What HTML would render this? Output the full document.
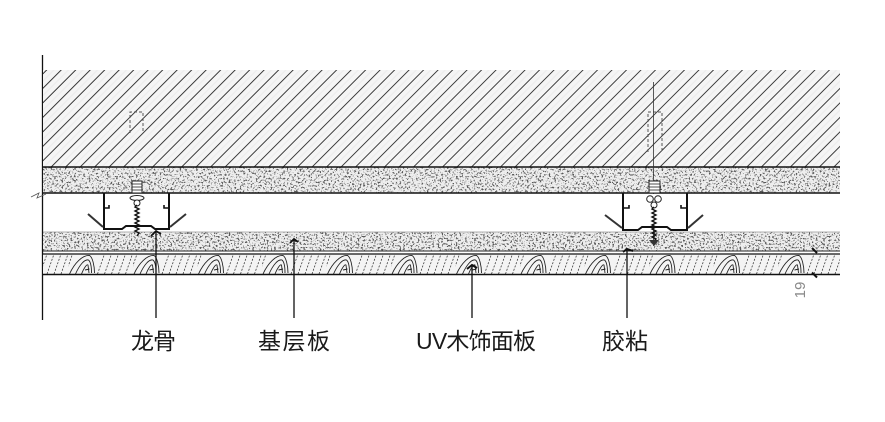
<!DOCTYPE html>
<html><head><meta charset="utf-8"><style>
html,body{margin:0;padding:0;background:#fff;}
svg{display:block;}
</style></head><body>
<svg width="885" height="422" viewBox="0 0 885 422" xmlns="http://www.w3.org/2000/svg">
<defs>
  <pattern id="hatch" width="10.25" height="10" patternUnits="userSpaceOnUse" patternTransform="rotate(45)">
    <line x1="0.5" y1="0" x2="0.5" y2="10" stroke="#1a1a1a" stroke-width="0.85"/>
    <line x1="5.6" y1="0" x2="5.6" y2="10" stroke="#ebebeb" stroke-width="1"/>
  </pattern>
  <filter id="spk" x="0" y="0" width="100%" height="100%">
    <feTurbulence type="fractalNoise" baseFrequency="0.55" numOctaves="2" seed="7"/>
    <feColorMatrix type="matrix" values="0 0 0 0 0.1  0 0 0 0 0.1  0 0 0 0 0.1  1 0 0 0 0"/>
    <feComponentTransfer>
      <feFuncA type="discrete" tableValues="0 0 0 0 0 0 0 0 0 0 0 0.2 0.6 1 1 1 1 1 1 1"/>
    </feComponentTransfer>
  </filter>
  <filter id="spk2" x="0" y="0" width="100%" height="100%">
    <feTurbulence type="fractalNoise" baseFrequency="0.55" numOctaves="2" seed="23"/>
    <feColorMatrix type="matrix" values="0 0 0 0 0.1  0 0 0 0 0.1  0 0 0 0 0.1  1 0 0 0 0"/>
    <feComponentTransfer>
      <feFuncA type="discrete" tableValues="0 0 0 0 0 0 0 0 0 0 0 0.2 0.6 1 1 1 1 1 1 1"/>
    </feComponentTransfer>
  </filter>
  <pattern id="wood" x="133" y="254" width="64.5" height="20" patternUnits="userSpaceOnUse">
    <g fill="none" stroke="#333" stroke-width="0.75" stroke-dasharray="2 1.5">
      <line x1="29" y1="20" x2="36" y2="0"/>
      <line x1="36" y1="20" x2="43" y2="0"/>
      <line x1="43" y1="20" x2="50" y2="0"/>
      <line x1="50" y1="20" x2="57" y2="0"/>
      <line x1="57" y1="20" x2="64" y2="0"/>
      <line x1="-3" y1="20" x2="4" y2="0"/>
    </g>
    <g fill="none" stroke="#222" stroke-width="0.9">
      <path d="M1 20 C6 9,14 1,21 1.5 C24 3,26 12,26 19"/>
      <path d="M7 20 C11 11,16 5,20 6 C22.5 8,23 14,23 19"/>
      <path d="M13 20 C15 15,18 10,19.5 11 L20.5 19"/>
      <path d="M16.5 16 L21 15"/>
    </g>
  </pattern>
</defs>

<!-- left vertical line -->
<line x1="42.5" y1="55" x2="42.5" y2="320" stroke="#111" stroke-width="1.3"/>

<!-- concrete -->
<rect x="43" y="70" width="797" height="97" fill="#f5f5f5"/>
<rect x="43" y="70" width="797" height="97" fill="url(#hatch)"/>

<!-- plaster band -->
<rect x="43" y="167" width="797" height="26" fill="#eeeeee"/>
<rect x="43" y="167" width="797" height="26" fill="#000" filter="url(#spk)"/>
<line x1="43" y1="167" x2="840" y2="167" stroke="#111" stroke-width="1.4"/>
<line x1="43" y1="193" x2="840" y2="193" stroke="#111" stroke-width="1.6"/>

<!-- base board -->
<rect x="43" y="232" width="797" height="19" fill="#eeeeee"/>
<rect x="43" y="232" width="797" height="19" fill="#000" filter="url(#spk2)"/>
<line x1="43" y1="232" x2="840" y2="232" stroke="#999" stroke-width="0.8"/>
<line x1="43" y1="251" x2="840" y2="251" stroke="#222" stroke-width="1"/>

<!-- wood panel -->
<rect x="43" y="254" width="797" height="20" fill="#f4f4f4"/>
<rect x="43" y="254" width="797" height="20" fill="url(#wood)"/>
<line x1="43" y1="254" x2="840" y2="254" stroke="#111" stroke-width="1.3"/>
<line x1="43" y1="274.5" x2="840" y2="274.5" stroke="#111" stroke-width="1.4"/>

<!-- break mark left -->
<polyline points="31,197 39,193 37,198 46,194" fill="none" stroke="#555" stroke-width="0.8"/>

<!-- anchors (dashed) -->
<g fill="none" stroke="#555" stroke-width="1" stroke-dasharray="3 2">
  <polyline points="130,133 130,112 143,112 143,133"/>
  <polyline points="648,152 648,112 662,112 662,152"/>
</g>
<line x1="653.5" y1="82" x2="653.5" y2="246" stroke="#333" stroke-width="0.8"/>

<!-- keel 1 -->
<g>
  <rect x="104" y="194" width="65" height="35" fill="#fff"/>
  <rect x="132" y="181" width="10" height="12" fill="#fff" stroke="#222" stroke-width="1"/>
  <g stroke="#222" stroke-width="0.8">
    <line x1="132" y1="184" x2="142" y2="184"/><line x1="132" y1="187" x2="142" y2="187"/><line x1="132" y1="190" x2="142" y2="190"/>
  </g>
  <path d="M104 193.5 L104 229 L122 229 L126 226 L151 226 L155 229 L169 229 L169 193.5" fill="none" stroke="#111" stroke-width="2"/>
  <polyline points="104,208 109,208 109,205" fill="none" stroke="#111" stroke-width="1.6"/>
  <polyline points="169,208 164,208 164,205" fill="none" stroke="#111" stroke-width="1.6"/>
  <ellipse cx="137" cy="198" rx="7" ry="2.5" fill="#fff" stroke="#222" stroke-width="1"/>
  <circle cx="137" cy="203" r="3" fill="#fff" stroke="#222" stroke-width="1"/>
  <polyline points="137,205 135,207 139,209 135,211 139,213 135,215 139,217 135,219 139,221 135,223 139,225 135,227 139,229 135,231 139,233 137,236" fill="none" stroke="#111" stroke-width="1.4"/>
  <line x1="88" y1="214" x2="103" y2="227" stroke="#333" stroke-width="2"/>
  <line x1="170" y1="227" x2="186" y2="214" stroke="#333" stroke-width="2"/>
</g>

<!-- keel 2 -->
<g>
  <rect x="623" y="194" width="64" height="36" fill="#fff"/>
  <rect x="649" y="181" width="11" height="12" fill="#fff" stroke="#222" stroke-width="1"/>
  <g stroke="#222" stroke-width="0.8">
    <line x1="649" y1="184" x2="660" y2="184"/><line x1="649" y1="187" x2="660" y2="187"/><line x1="649" y1="190" x2="660" y2="190"/>
  </g>
  <path d="M623 193.5 L623 230 L638 230 L642 227 L667 227 L671 230 L687 230 L687 193.5" fill="none" stroke="#111" stroke-width="2"/>
  <polyline points="623,208 629,208 629,205" fill="none" stroke="#111" stroke-width="1.6"/>
  <polyline points="687,208 681,208 681,205" fill="none" stroke="#111" stroke-width="1.6"/>
  <circle cx="650" cy="199" r="3.3" fill="#fff" stroke="#222" stroke-width="1"/>
  <circle cx="658" cy="199" r="3.3" fill="#fff" stroke="#222" stroke-width="1"/>
  <circle cx="654" cy="205" r="3" fill="#fff" stroke="#222" stroke-width="1"/>
  <polyline points="654,207 652,209 656,211 652,213 656,215 652,217 656,219 652,221 656,223 652,225 656,227 652,229 656,231 652,233 656,235 652,237 656,239 654,241" fill="none" stroke="#111" stroke-width="1.4"/>
  <path d="M649 240 L659 240 L654 246 Z" fill="#333"/>
  <line x1="605" y1="215" x2="622" y2="228" stroke="#333" stroke-width="2"/>
  <line x1="688" y1="228" x2="703" y2="215" stroke="#333" stroke-width="2"/>
</g>

<!-- leaders -->
<g stroke="#111" fill="none">
  <line x1="156" y1="232" x2="156" y2="318" stroke-width="1.3"/>
  <polyline points="151,236 156,231 161,234" stroke-width="1.8"/>
  <line x1="294" y1="240" x2="294" y2="318" stroke-width="1.3"/>
  <polyline points="290,243 294,239 298,242" stroke-width="1.8"/>
  <line x1="472" y1="266" x2="472" y2="318" stroke-width="1.3"/>
  <polyline points="467,269 472,265 477,268" stroke-width="2"/>
  <line x1="627" y1="250" x2="627" y2="318" stroke-width="1.3"/>
  <polyline points="623,252 627,249 633,251" stroke-width="2"/>
</g>

<!-- dimension ticks right -->
<line x1="812" y1="248" x2="817" y2="253" stroke="#111" stroke-width="2"/>
<line x1="812" y1="272.5" x2="817" y2="277.5" stroke="#111" stroke-width="2"/>
<text transform="translate(805,290) rotate(-90)" text-anchor="middle" font-family="Liberation Sans, sans-serif" font-size="15" fill="#8a8a8a">19</text>

<!-- labels -->
<g font-family="Liberation Sans, 'Noto Sans CJK SC', sans-serif" font-size="23" fill="#1a1a1a">
  <text x="131" y="349" textLength="45">龙骨</text>
  <text x="258" y="349" textLength="72">基层板</text>
  <text x="416" y="349" textLength="120">UV木饰面板</text>
  <text x="602" y="349">胶粘</text>
</g>
</svg>
</body></html>
